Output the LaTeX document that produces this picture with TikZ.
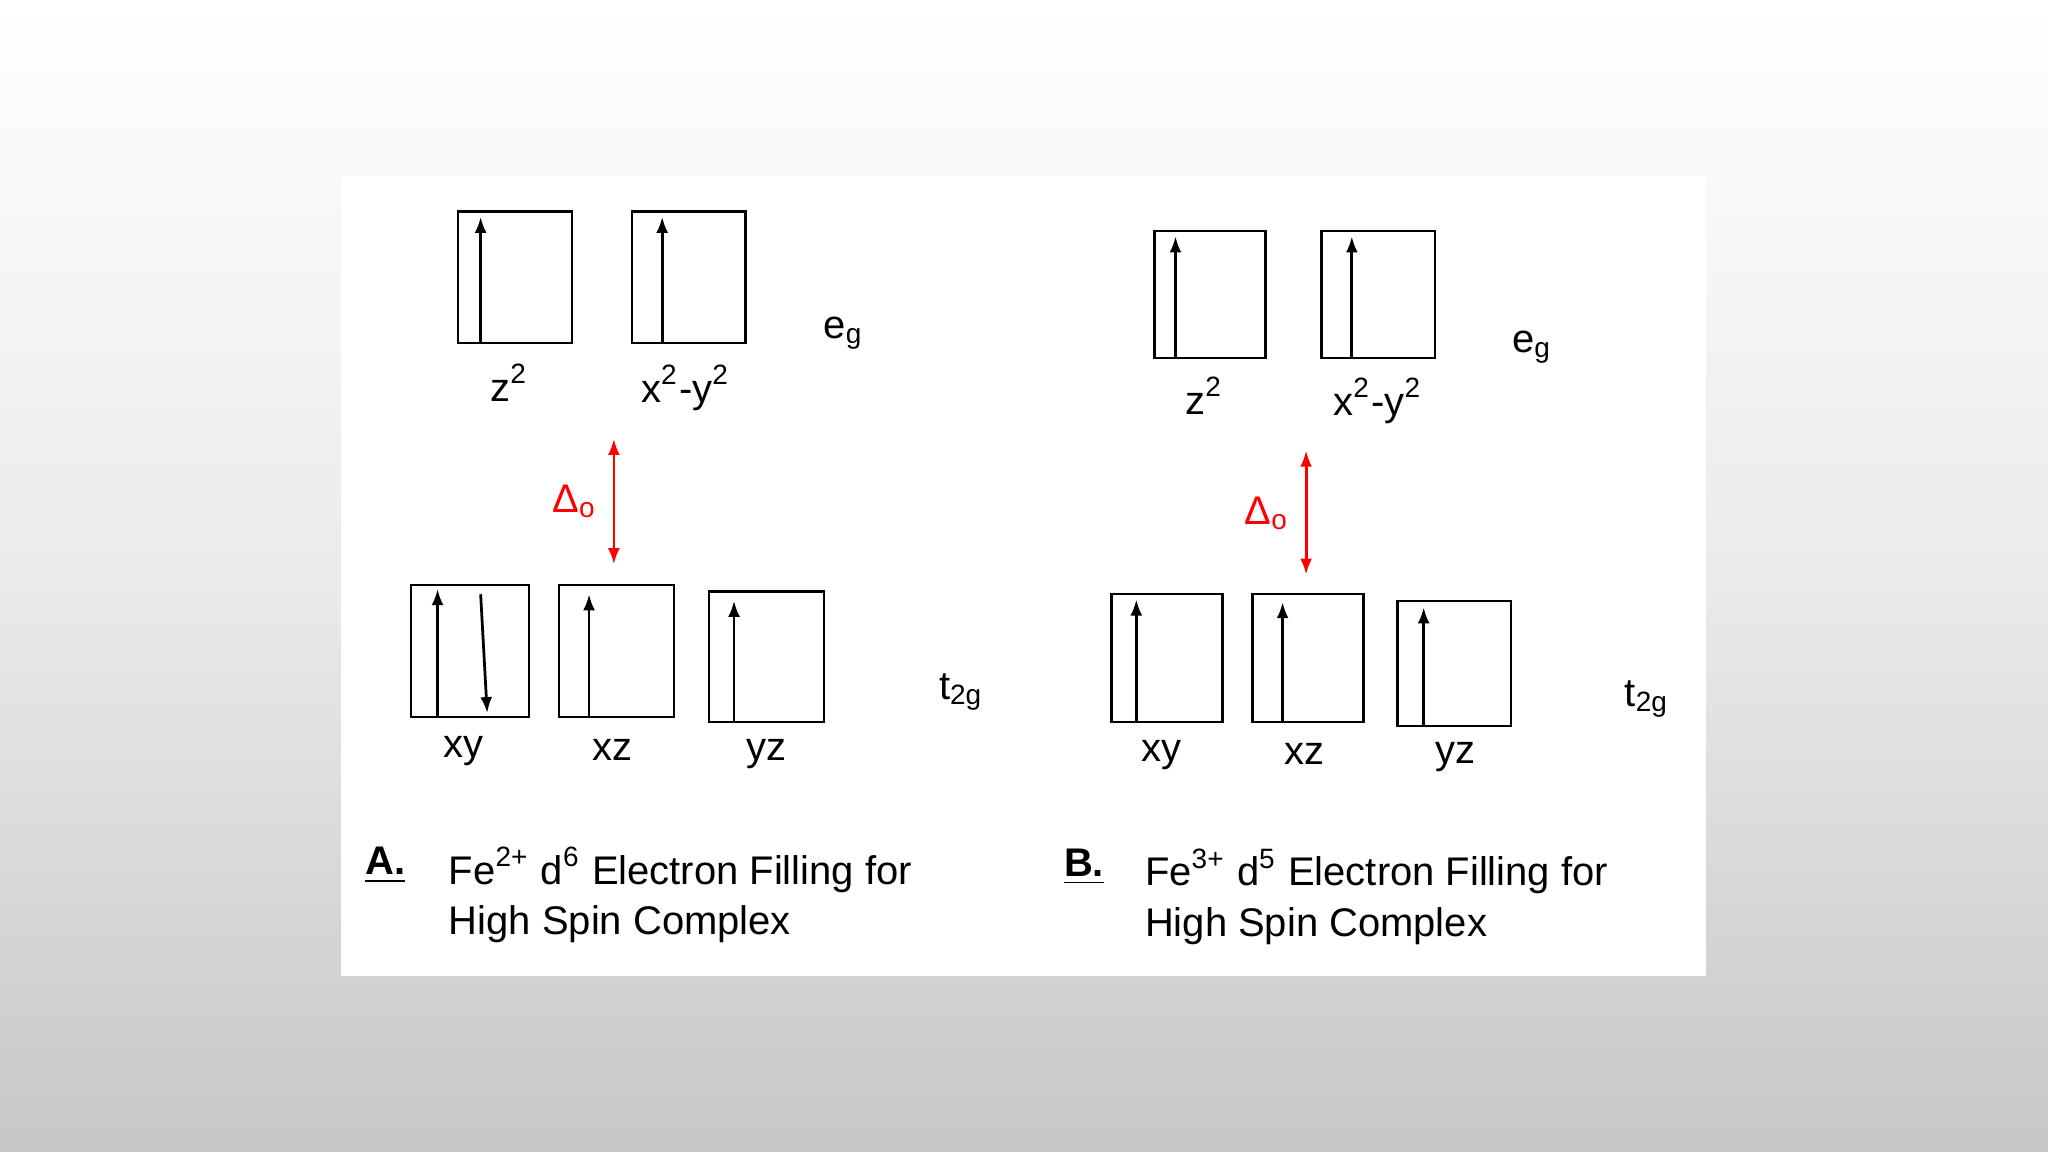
\documentclass[tikz,border=0pt]{standalone}
\usepackage{fontspec}
\setmainfont{Liberation Sans}
\usetikzlibrary{arrows.meta}
\begin{document}
\begin{tikzpicture}[x=0.01cm,y=-0.01cm,
  orb/.style={draw,line width=0.5pt,inner sep=0pt,anchor=north west},
  el/.style={line width=0.6pt,-{Latex[length=3.5pt,width=2.6pt]}},
  gap/.style={red,line width=0.6pt,{Latex[length=3.5pt,width=2.6pt]}-{Latex[length=3.5pt,width=2.6pt]}},
  lab/.style={font=\fontsize{8.7pt}{10pt}\selectfont},
  captxt/.style={font=\fontsize{8.7pt}{11pt}\selectfont,anchor=north west,align=left,inner sep=0pt}]
\shade[top color=white,bottom color=black!22,middle color=black!8] (0,0) rectangle (1568,882);
\useasboundingbox (0,0) rectangle (1568,882);
\fill[white] (261,135) rectangle (1306,747);
% Panel A
\node[orb,minimum width=87*0.01cm,minimum height=101*0.01cm] (az) at (350,161) {};
\node[orb,minimum width=87*0.01cm,minimum height=101*0.01cm] (ax) at (483,161) {};
\draw[el] (368,262) -- (368,166);
\draw[el] (507,262) -- (507,166);
\node[lab] (azl) at (390,293) {z\textsuperscript{2}};
\node[lab] (axl) at (525,297) {x\textsuperscript{2}-y\textsuperscript{2}};
\node[lab] (aeg) at (646,255) {e\textsubscript{g}};
\coordinate (ag1) at (470,336); \coordinate (ag2) at (470,432);
\draw[gap] (ag1) -- (ag2);
\node[lab,red] (ad) at (440,384) {Δ\textsubscript{o}};
\node[orb,minimum width=90*0.01cm,minimum height=101*0.01cm] (axy) at (314,447) {};
\node[orb,minimum width=88*0.01cm,minimum height=101*0.01cm] (axz) at (427,447) {};
\node[orb,minimum width=88*0.01cm,minimum height=100*0.01cm] (ayz) at (542,452) {};
\draw[el] (335,548) -- (335,451);
\draw[el] (368,455) -- (373,546);
\draw[el] (451,548) -- (451,455);
\draw[el] (562,552) -- (562,460);
\node[lab] (axyl) at (355,575) {xy};
\node[lab] (axzl) at (469,574) {xz};
\node[lab] (ayzl) at (587,577) {yz};
\node[lab] (at) at (736,530) {t\textsubscript{2g}};
\node[captxt] (aA) at (279,648) {\underline{\textbf{A.}}};
\node[captxt] (acap) at (343,648) {Fe\textsuperscript{2+} d\textsuperscript{6} Electron Filling for\\High Spin Complex};
% Panel B
\node[orb,minimum width=85*0.01cm,minimum height=97*0.01cm] (bz) at (883,176) {};
\node[orb,minimum width=87*0.01cm,minimum height=97*0.01cm] (bx) at (1011,176) {};
\draw[el] (900,273) -- (900,181);
\draw[el] (1035,273) -- (1035,181);
\node[lab] (bzl) at (922,303) {z\textsuperscript{2}};
\node[lab] (bxl) at (1055,307) {x\textsuperscript{2}-y\textsuperscript{2}};
\node[lab] (beg) at (1173,266) {e\textsubscript{g}};
\coordinate (bg1) at (1000,345); \coordinate (bg2) at (1000,440);
\draw[gap] (bg1) -- (bg2);
\node[lab,red] (bd) at (970,393) {Δ\textsubscript{o}};
\node[orb,minimum width=85*0.01cm,minimum height=98*0.01cm] (bxy) at (850,454) {};
\node[orb,minimum width=85*0.01cm,minimum height=98*0.01cm] (bxz) at (958,454) {};
\node[orb,minimum width=87*0.01cm,minimum height=96*0.01cm] (byz) at (1069,459) {};
\draw[el] (870,552) -- (870,459);
\draw[el] (982,552) -- (982,461);
\draw[el] (1090,555) -- (1090,465);
\node[lab] (bxyl) at (889,578) {xy};
\node[lab] (bxzl) at (999,577) {xz};
\node[lab] (byzl) at (1114,580) {yz};
\node[lab] (bt) at (1261,535) {t\textsubscript{2g}};
\node[captxt] (bB) at (814,649) {\underline{\textbf{B.}}};
\node[captxt] (bcap) at (876,649) {Fe\textsuperscript{3+} d\textsuperscript{5} Electron Filling for\\High Spin Complex};
\end{tikzpicture}
\end{document}
